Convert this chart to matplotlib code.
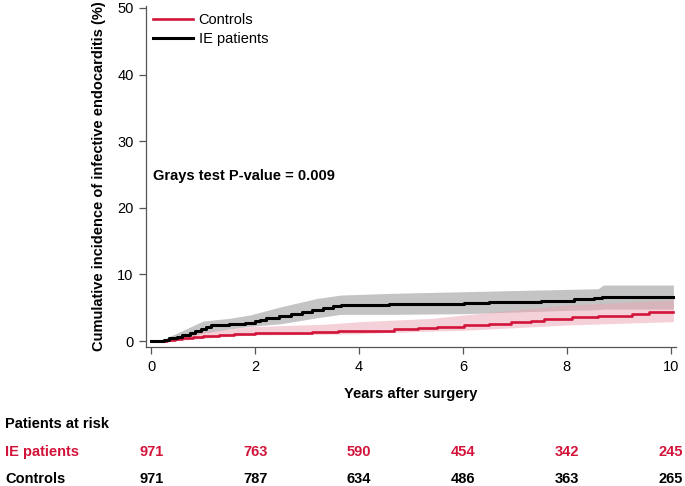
import matplotlib
matplotlib.use("Agg")
import matplotlib.pyplot as plt
from matplotlib.transforms import blended_transform_factory
import numpy as np

plt.rcParams['font.family'] = ['Liberation Sans', 'DejaVu Sans']

# IE patients cumulative incidence (step)
ie_t = [0, 0.25, 0.35, 0.5, 0.6, 0.75, 0.85, 0.95, 1.05, 1.15, 1.5, 1.8, 2.0, 2.1, 2.2,
        2.45, 2.7, 2.9, 3.1, 3.3, 3.5, 3.65, 4.58, 6.02, 6.5, 7.5, 8.13, 8.53, 8.67, 10.05]
ie_v = [0, 0.15, 0.4, 0.65, 0.9, 1.2, 1.45, 1.8, 2.1, 2.4, 2.55, 2.75, 2.95, 3.15, 3.45,
        3.8, 4.05, 4.4, 4.7, 4.95, 5.2, 5.35, 5.6, 5.75, 5.85, 6.05, 6.25, 6.4, 6.6, 6.6]
# IE patients confidence band
ie_band_t = [0, 0.25, 0.5, 1.0, 1.5, 1.9, 2.5, 3.2, 3.65, 4.6, 6.0, 8.0, 8.6, 8.7, 10.05]
ie_lo = [0, 0, 0.2, 1.2, 1.8, 2.2, 2.6, 3.5, 4.0, 4.0, 4.1, 4.6, 4.7, 4.8, 4.8]
ie_hi = [0, 0.3, 1.2, 3.0, 3.4, 3.9, 5.15, 6.4, 6.9, 7.15, 7.4, 7.75, 7.85, 8.4, 8.4]

# Controls cumulative incidence (step)
ct_t = [0, 0.3, 0.45, 0.6, 0.8, 1.0, 1.3, 1.6, 2.0, 2.6, 3.1, 3.6, 4.29, 4.67, 5.13,
        5.5, 6.02, 6.5, 6.93, 7.3, 7.55, 8.09, 8.6, 9.25, 9.58, 10.05]
ct_v = [0, 0.1, 0.25, 0.4, 0.6, 0.75, 0.9, 1.0, 1.15, 1.25, 1.35, 1.45, 1.55, 1.75, 1.95,
        2.1, 2.4, 2.55, 2.85, 3.05, 3.3, 3.6, 3.75, 4.0, 4.3, 4.3]
ct_band_t = [0, 0.3, 0.5, 1.0, 1.9, 3.3, 4.0, 5.4, 6.0, 8.0, 10.05]
ct_lo = [0, 0, 0.05, 0.4, 0.9, 1.0, 1.1, 1.5, 1.6, 2.4, 2.9]
ct_hi = [0, 0.25, 0.55, 1.4, 2.15, 2.5, 2.9, 3.4, 3.9, 5.4, 6.15]

risk_times = [0, 2, 4, 6, 8, 10]
risk_ie = [971, 763, 590, 454, 342, 245]
risk_ct = [971, 787, 634, 486, 363, 265]

RED = '#d2143a'

fig = plt.figure(figsize=(6.85, 4.86), dpi=100)
ax = fig.add_axes([146/685, 139/486, (676-146)/685, (347-6)/486])

ax.fill_between(ie_band_t, ie_lo, ie_hi, color='#c4c4c4', lw=0, zorder=1)
ax.fill_between(ct_band_t, ct_lo, ct_hi, color='#eba3b2', alpha=0.5, lw=0, zorder=2)
ax.step(ct_t, ct_v, where='post', color=RED, lw=1.9, label='Controls', zorder=3)
ax.step(ie_t, ie_v, where='post', color='black', lw=2.2, label='IE patients', zorder=4)

ax.set_xlim(-0.1, 10.1)
ax.set_ylim(-0.9, 50.3)
ax.set_xticks(risk_times)
ax.set_yticks([0, 10, 20, 30, 40, 50])
ax.spines['top'].set_visible(False)
ax.spines['right'].set_visible(False)
for s in ['left', 'bottom']:
    ax.spines[s].set_color('#555555')
    ax.spines[s].set_linewidth(0.9)
ax.tick_params(direction='out', length=5, width=0.9, color='#555555', labelsize=10.5, pad=4)
ax.set_xlabel('Years after surgery', fontsize=10.5, fontweight='bold', labelpad=10)
ax.set_ylabel('Cumulative incidence of infective endocarditis (%)', fontsize=10.5,
              fontweight='bold', labelpad=8)

ax.text(0.03, 24.8, 'Grays test P-value = 0.009', fontsize=10.5, fontweight='bold',
        va='center', ha='left')

leg = ax.legend(loc='upper left', bbox_to_anchor=(0.0, 1.0), frameon=False, fontsize=10.5,
                handlelength=2.7, handletextpad=0.4, borderaxespad=0.1, labelspacing=0.3)

tr = blended_transform_factory(ax.transData, fig.transFigure)
fig.text(5/685, 1 - 424/486, 'Patients at risk', fontsize=10.5, fontweight='bold', va='center')
fig.text(5/685, 1 - 452/486, 'IE patients', fontsize=10.5, fontweight='bold', va='center', color=RED)
fig.text(5/685, 1 - 479/486, 'Controls', fontsize=10.5, fontweight='bold', va='center')
for t, a, b in zip(risk_times, risk_ie, risk_ct):
    ax.text(t, 1 - 452/486, str(a), transform=tr, fontsize=10.5, fontweight='bold',
            ha='center', va='center', color=RED, clip_on=False)
    ax.text(t, 1 - 479/486, str(b), transform=tr, fontsize=10.5, fontweight='bold',
            ha='center', va='center', color='black', clip_on=False)

fig.savefig('out.png', dpi=100)
